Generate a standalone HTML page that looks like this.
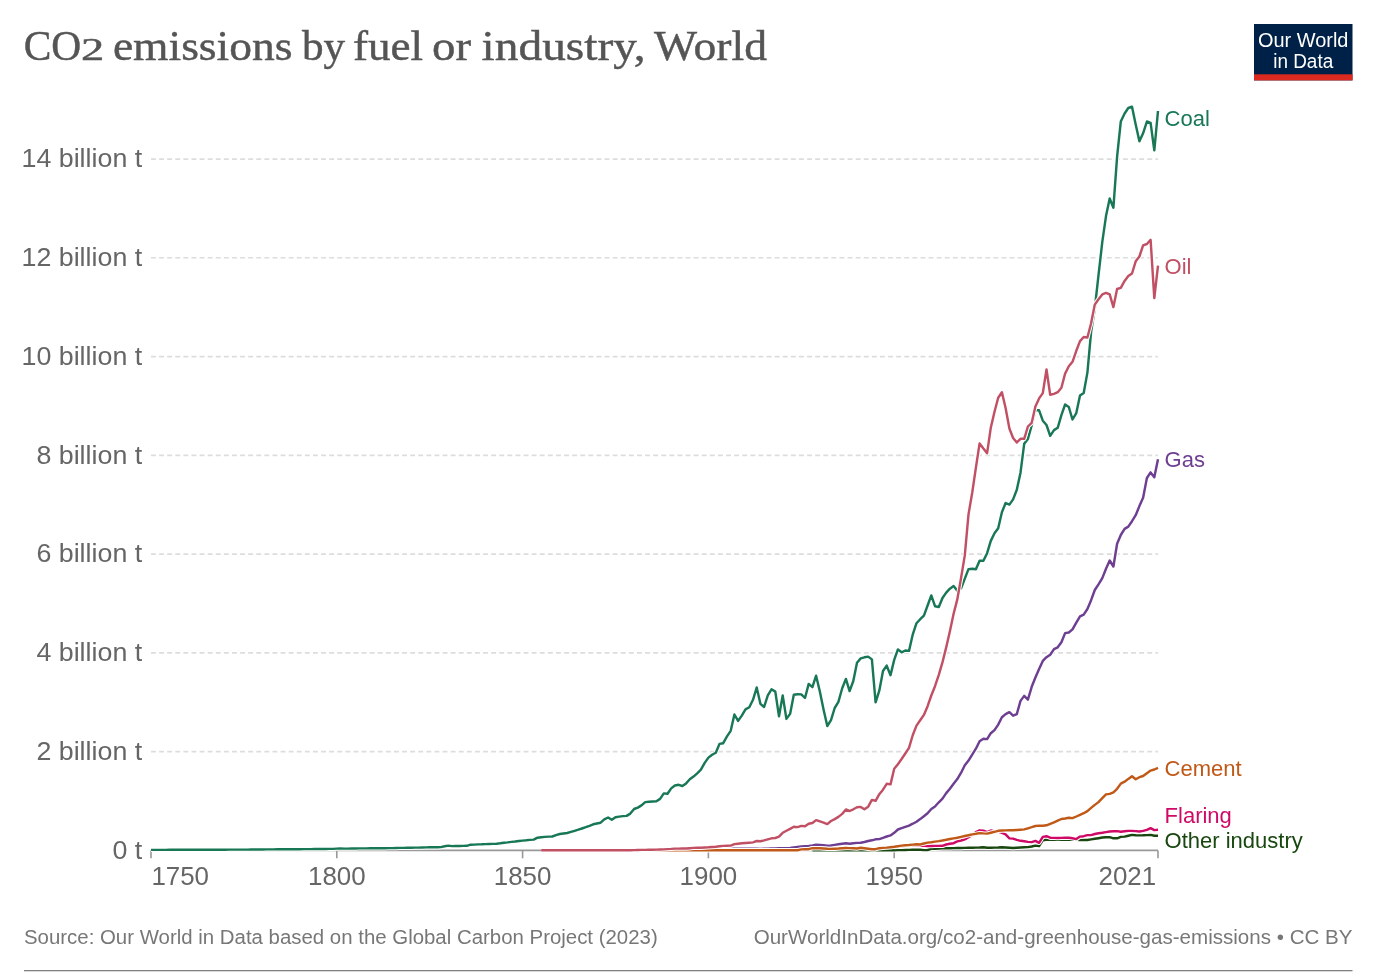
<!DOCTYPE html>
<html><head><meta charset="utf-8"><title>CO2 emissions by fuel or industry, World</title>
<style>
html,body{margin:0;padding:0;background:#fff;}
body{width:1377px;height:972px;overflow:hidden;font-family:"Liberation Sans",sans-serif;}
svg{display:block;will-change:transform;}
.ax{font-family:"Liberation Sans",sans-serif;font-size:25.92px;fill:#666;}
.lb{font-family:"Liberation Sans",sans-serif;font-size:22px;}
.ft{font-family:"Liberation Sans",sans-serif;fill:#777;}
.ti{font-family:"Liberation Serif",serif;fill:#555;stroke:#555;stroke-width:0.45px;}
.lg{font-family:"Liberation Sans",sans-serif;fill:#fff;}
</style></head>
<body>
<svg width="1377" height="972" viewBox="0 0 1377 972">
<rect x="0" y="0" width="1377" height="972" fill="#fff"/>
<text transform="translate(23.67,0) scale(0.9643,1)" x="0" y="59.9" font-size="43px" class="ti">CO</text>
<text transform="translate(81.00,0) scale(1.5000,1)" x="0" y="59.9" font-size="31px" class="ti">2</text>
<text transform="translate(112.88,0) scale(1.0590,1)" x="0" y="59.9" font-size="43px" class="ti">emissions</text>
<text transform="translate(302.00,0) scale(1.0047,1)" x="0" y="59.9" font-size="43px" class="ti">by</text>
<text transform="translate(353.00,0) scale(1.0484,1)" x="0" y="59.9" font-size="43px" class="ti">fuel</text>
<text transform="translate(432.12,0) scale(1.0882,1)" x="0" y="59.9" font-size="43px" class="ti">or</text>
<text transform="translate(481.60,0) scale(1.1021,1)" x="0" y="59.9" font-size="43px" class="ti">industry,</text>
<text transform="translate(654.10,0) scale(1.0613,1)" x="0" y="59.9" font-size="43px" class="ti">World</text>
<g id="logo">
<rect x="1254" y="24" width="98.5" height="56.4" fill="#002147"/>
<rect x="1254" y="74.3" width="98.5" height="6.1" fill="#dc2a20"/>
<text x="1303.2" y="46.6" text-anchor="middle" class="lg" font-size="19.5px" textLength="90.5" lengthAdjust="spacingAndGlyphs">Our World</text>
<text x="1303.2" y="67.9" text-anchor="middle" class="lg" font-size="19.5px" textLength="60" lengthAdjust="spacingAndGlyphs">in Data</text>
</g>
<g id="grid">
<line x1="151" x2="1158" y1="751.6" y2="751.6" stroke="#ddd" stroke-width="1.6" stroke-dasharray="4.86,3.24"/>
<line x1="151" x2="1158" y1="652.9" y2="652.9" stroke="#ddd" stroke-width="1.6" stroke-dasharray="4.86,3.24"/>
<line x1="151" x2="1158" y1="554.1" y2="554.1" stroke="#ddd" stroke-width="1.6" stroke-dasharray="4.86,3.24"/>
<line x1="151" x2="1158" y1="455.4" y2="455.4" stroke="#ddd" stroke-width="1.6" stroke-dasharray="4.86,3.24"/>
<line x1="151" x2="1158" y1="356.6" y2="356.6" stroke="#ddd" stroke-width="1.6" stroke-dasharray="4.86,3.24"/>
<line x1="151" x2="1158" y1="257.8" y2="257.8" stroke="#ddd" stroke-width="1.6" stroke-dasharray="4.86,3.24"/>
<line x1="151" x2="1158" y1="159.1" y2="159.1" stroke="#ddd" stroke-width="1.6" stroke-dasharray="4.86,3.24"/>
</g>
<g id="yl">
<text transform="translate(142.2,858.6) scale(1.035,1)" x="0" y="0" text-anchor="end" class="ax">0 t</text>
<text transform="translate(142.2,759.8) scale(1.035,1)" x="0" y="0" text-anchor="end" class="ax">2 billion t</text>
<text transform="translate(142.2,661.1) scale(1.035,1)" x="0" y="0" text-anchor="end" class="ax">4 billion t</text>
<text transform="translate(142.2,562.3) scale(1.035,1)" x="0" y="0" text-anchor="end" class="ax">6 billion t</text>
<text transform="translate(142.2,463.6) scale(1.035,1)" x="0" y="0" text-anchor="end" class="ax">8 billion t</text>
<text transform="translate(142.2,364.8) scale(1.035,1)" x="0" y="0" text-anchor="end" class="ax">10 billion t</text>
<text transform="translate(142.2,266.0) scale(1.035,1)" x="0" y="0" text-anchor="end" class="ax">12 billion t</text>
<text transform="translate(142.2,167.3) scale(1.035,1)" x="0" y="0" text-anchor="end" class="ax">14 billion t</text>
</g>
<line x1="151" x2="1158" y1="850.4" y2="850.4" stroke="#999" stroke-width="1.6"/>
<g id="xt">
<line x1="151.0" x2="151.0" y1="850.4" y2="858.3" stroke="#999" stroke-width="1.6"/>
<text x="151.4" y="885.2" text-anchor="start" class="ax">1750</text>
<line x1="336.8" x2="336.8" y1="850.4" y2="858.3" stroke="#999" stroke-width="1.6"/>
<text x="336.8" y="885.2" text-anchor="middle" class="ax">1800</text>
<line x1="522.6" x2="522.6" y1="850.4" y2="858.3" stroke="#999" stroke-width="1.6"/>
<text x="522.6" y="885.2" text-anchor="middle" class="ax">1850</text>
<line x1="708.4" x2="708.4" y1="850.4" y2="858.3" stroke="#999" stroke-width="1.6"/>
<text x="708.4" y="885.2" text-anchor="middle" class="ax">1900</text>
<line x1="894.2" x2="894.2" y1="850.4" y2="858.3" stroke="#999" stroke-width="1.6"/>
<text x="894.2" y="885.2" text-anchor="middle" class="ax">1950</text>
<line x1="1158.0" x2="1158.0" y1="850.4" y2="858.3" stroke="#999" stroke-width="1.6"/>
<text x="1156.2" y="885.2" text-anchor="end" class="ax">2021</text>
</g>
<g id="lines">
<path d="M812.4,850.4 L816.1,850.4 L819.9,850.4 L823.6,850.4 L827.3,850.4 L831.0,850.4 L834.7,850.4 L838.4,850.4 L842.2,850.4 L845.9,850.4 L849.6,850.4 L853.3,850.4 L857.0,850.4 L860.7,850.4 L864.4,850.4 L868.2,850.4 L871.9,850.4 L875.6,850.4 L879.3,850.3 L883.0,850.3 L886.7,850.3 L890.5,850.2 L894.2,850.2 L897.9,850.1 L901.6,850.1 L905.3,850.0 L909.0,849.9 L912.8,849.8 L916.5,849.8 L920.2,849.7 L923.9,850.1 L927.6,850.0 L931.3,848.8 L935.0,848.7 L938.8,848.5 L942.5,848.4 L946.2,848.3 L949.9,848.2 L953.6,848.1 L957.3,848.0 L961.1,848.0 L964.8,847.9 L968.5,847.8 L972.2,847.7 L975.9,847.6 L979.6,847.5 L983.4,847.3 L987.1,847.8 L990.8,847.7 L994.5,847.6 L998.2,847.5 L1001.9,847.3 L1005.6,847.5 L1009.4,847.7 L1013.1,848.0 L1016.8,847.7 L1020.5,847.5 L1024.2,847.3 L1027.9,847.1 L1031.7,846.5 L1035.4,845.6 L1039.1,846.0 L1042.8,840.2 L1046.5,839.7 L1050.2,839.7 L1054.0,839.7 L1057.7,839.7 L1061.4,839.7 L1065.1,839.6 L1068.8,839.7 L1072.5,839.7 L1076.3,839.7 L1080.0,840.0 L1083.7,840.0 L1087.4,840.0 L1091.1,839.4 L1094.8,838.8 L1098.5,838.2 L1102.3,837.5 L1106.0,837.3 L1109.7,837.1 L1113.4,838.3 L1117.1,838.3 L1120.8,836.9 L1124.6,836.6 L1128.3,835.7 L1132.0,834.9 L1135.7,835.2 L1139.4,835.4 L1143.1,835.3 L1146.9,835.1 L1150.6,834.9 L1154.3,835.7 L1158.0,835.7" fill="none" stroke="#fff" stroke-width="4.4" stroke-linejoin="round" stroke-linecap="butt"/>
<path d="M812.4,850.4 L816.1,850.4 L819.9,850.4 L823.6,850.4 L827.3,850.4 L831.0,850.4 L834.7,850.4 L838.4,850.4 L842.2,850.4 L845.9,850.4 L849.6,850.4 L853.3,850.4 L857.0,850.4 L860.7,850.4 L864.4,850.4 L868.2,850.4 L871.9,850.4 L875.6,850.4 L879.3,850.3 L883.0,850.3 L886.7,850.3 L890.5,850.2 L894.2,850.2 L897.9,850.1 L901.6,850.1 L905.3,850.0 L909.0,849.9 L912.8,849.8 L916.5,849.8 L920.2,849.7 L923.9,850.1 L927.6,850.0 L931.3,848.8 L935.0,848.7 L938.8,848.5 L942.5,848.4 L946.2,848.3 L949.9,848.2 L953.6,848.1 L957.3,848.0 L961.1,848.0 L964.8,847.9 L968.5,847.8 L972.2,847.7 L975.9,847.6 L979.6,847.5 L983.4,847.3 L987.1,847.8 L990.8,847.7 L994.5,847.6 L998.2,847.5 L1001.9,847.3 L1005.6,847.5 L1009.4,847.7 L1013.1,848.0 L1016.8,847.7 L1020.5,847.5 L1024.2,847.3 L1027.9,847.1 L1031.7,846.5 L1035.4,845.6 L1039.1,846.0 L1042.8,840.2 L1046.5,839.7 L1050.2,839.7 L1054.0,839.7 L1057.7,839.7 L1061.4,839.7 L1065.1,839.6 L1068.8,839.7 L1072.5,839.7 L1076.3,839.7 L1080.0,840.0 L1083.7,840.0 L1087.4,840.0 L1091.1,839.4 L1094.8,838.8 L1098.5,838.2 L1102.3,837.5 L1106.0,837.3 L1109.7,837.1 L1113.4,838.3 L1117.1,838.3 L1120.8,836.9 L1124.6,836.6 L1128.3,835.7 L1132.0,834.9 L1135.7,835.2 L1139.4,835.4 L1143.1,835.3 L1146.9,835.1 L1150.6,834.9 L1154.3,835.7 L1158.0,835.7" fill="none" stroke="#18470f" stroke-width="2.43" stroke-linejoin="round" stroke-linecap="butt"/>
<path d="M894.2,847.1 L897.9,846.7 L901.6,846.3 L905.3,845.9 L909.0,845.7 L912.8,845.5 L916.5,845.5 L920.2,845.9 L923.9,845.9 L927.6,846.0 L931.3,846.0 L935.0,845.9 L938.8,845.9 L942.5,845.8 L946.2,844.5 L949.9,843.8 L953.6,843.2 L957.3,841.4 L961.1,840.5 L964.8,839.4 L968.5,837.1 L972.2,835.0 L975.9,832.2 L979.6,830.4 L983.4,830.7 L987.1,832.2 L990.8,830.5 L994.5,831.5 L998.2,831.7 L1001.9,832.9 L1005.6,834.4 L1009.4,838.4 L1013.1,838.6 L1016.8,839.8 L1020.5,840.8 L1024.2,841.2 L1027.9,841.9 L1031.7,842.1 L1035.4,840.9 L1039.1,842.8 L1042.8,836.9 L1046.5,836.2 L1050.2,837.7 L1054.0,837.9 L1057.7,838.0 L1061.4,837.9 L1065.1,837.7 L1068.8,837.7 L1072.5,838.3 L1076.3,839.1 L1080.0,836.6 L1083.7,836.2 L1087.4,835.1 L1091.1,835.1 L1094.8,834.0 L1098.5,833.2 L1102.3,832.8 L1106.0,832.1 L1109.7,831.5 L1113.4,831.3 L1117.1,831.1 L1120.8,831.7 L1124.6,831.3 L1128.3,830.9 L1132.0,830.9 L1135.7,831.1 L1139.4,831.5 L1143.1,830.9 L1146.9,829.8 L1150.6,828.1 L1154.3,830.1 L1158.0,829.8" fill="none" stroke="#fff" stroke-width="4.4" stroke-linejoin="round" stroke-linecap="butt"/>
<path d="M894.2,847.1 L897.9,846.7 L901.6,846.3 L905.3,845.9 L909.0,845.7 L912.8,845.5 L916.5,845.5 L920.2,845.9 L923.9,845.9 L927.6,846.0 L931.3,846.0 L935.0,845.9 L938.8,845.9 L942.5,845.8 L946.2,844.5 L949.9,843.8 L953.6,843.2 L957.3,841.4 L961.1,840.5 L964.8,839.4 L968.5,837.1 L972.2,835.0 L975.9,832.2 L979.6,830.4 L983.4,830.7 L987.1,832.2 L990.8,830.5 L994.5,831.5 L998.2,831.7 L1001.9,832.9 L1005.6,834.4 L1009.4,838.4 L1013.1,838.6 L1016.8,839.8 L1020.5,840.8 L1024.2,841.2 L1027.9,841.9 L1031.7,842.1 L1035.4,840.9 L1039.1,842.8 L1042.8,836.9 L1046.5,836.2 L1050.2,837.7 L1054.0,837.9 L1057.7,838.0 L1061.4,837.9 L1065.1,837.7 L1068.8,837.7 L1072.5,838.3 L1076.3,839.1 L1080.0,836.6 L1083.7,836.2 L1087.4,835.1 L1091.1,835.1 L1094.8,834.0 L1098.5,833.2 L1102.3,832.8 L1106.0,832.1 L1109.7,831.5 L1113.4,831.3 L1117.1,831.1 L1120.8,831.7 L1124.6,831.3 L1128.3,830.9 L1132.0,830.9 L1135.7,831.1 L1139.4,831.5 L1143.1,830.9 L1146.9,829.8 L1150.6,828.1 L1154.3,830.1 L1158.0,829.8" fill="none" stroke="#cf0a66" stroke-width="2.43" stroke-linejoin="round" stroke-linecap="butt"/>
<path d="M641.5,850.4 L645.2,850.3 L648.9,850.3 L652.6,850.3 L656.4,850.2 L660.1,850.2 L663.8,850.2 L667.5,850.2 L671.2,850.1 L674.9,850.1 L678.7,850.1 L682.4,850.1 L686.1,850.0 L689.8,850.0 L693.5,850.0 L697.2,850.0 L700.9,849.9 L704.7,849.9 L708.4,849.9 L712.1,849.7 L715.8,849.5 L719.5,849.3 L723.2,849.2 L727.0,849.0 L730.7,848.8 L734.4,848.6 L738.1,848.6 L741.8,848.7 L745.5,848.7 L749.3,848.8 L753.0,848.8 L756.7,848.8 L760.4,848.9 L764.1,848.8 L767.8,848.7 L771.5,848.5 L775.3,848.4 L779.0,848.3 L782.7,848.2 L786.4,848.1 L790.1,848.0 L793.8,847.4 L797.6,846.9 L801.3,846.5 L805.0,846.2 L808.7,845.9 L812.4,845.4 L816.1,844.8 L819.9,845.0 L823.6,845.3 L827.3,845.6 L831.0,845.5 L834.7,844.9 L838.4,844.3 L842.2,843.8 L845.9,843.3 L849.6,843.7 L853.3,843.3 L857.0,842.9 L860.7,842.7 L864.4,842.0 L868.2,841.0 L871.9,840.3 L875.6,839.3 L879.3,839.1 L883.0,837.8 L886.7,836.5 L890.5,835.4 L894.2,832.8 L897.9,829.5 L901.6,828.2 L905.3,826.9 L909.0,825.6 L912.8,823.7 L916.5,821.7 L920.2,819.1 L923.9,816.2 L927.6,813.2 L931.3,809.0 L935.0,806.5 L938.8,802.3 L942.5,798.6 L946.2,793.1 L949.9,788.8 L953.6,783.8 L957.3,779.1 L961.1,772.7 L964.8,765.3 L968.5,760.6 L972.2,754.6 L975.9,748.7 L979.6,741.2 L983.4,738.7 L987.1,739.1 L990.8,733.2 L994.5,730.1 L998.2,724.6 L1001.9,717.2 L1005.6,714.1 L1009.4,712.2 L1013.1,715.7 L1016.8,714.1 L1020.5,700.9 L1024.2,695.9 L1027.9,699.7 L1031.7,686.8 L1035.4,677.5 L1039.1,668.9 L1042.8,660.9 L1046.5,657.2 L1050.2,654.7 L1054.0,649.1 L1057.7,647.3 L1061.4,642.3 L1065.1,633.1 L1068.8,632.5 L1072.5,629.4 L1076.3,622.6 L1080.0,616.4 L1083.7,614.6 L1087.4,609.0 L1091.1,600.2 L1094.8,590.0 L1098.5,584.4 L1102.3,578.1 L1106.0,568.8 L1109.7,560.5 L1113.4,566.5 L1117.1,543.8 L1120.8,535.0 L1124.6,528.9 L1128.3,526.6 L1132.0,521.2 L1135.7,515.2 L1139.4,506.1 L1143.1,497.8 L1146.9,478.0 L1150.6,472.4 L1154.3,477.2 L1158.0,459.3" fill="none" stroke="#fff" stroke-width="4.4" stroke-linejoin="round" stroke-linecap="butt"/>
<path d="M641.5,850.4 L645.2,850.3 L648.9,850.3 L652.6,850.3 L656.4,850.2 L660.1,850.2 L663.8,850.2 L667.5,850.2 L671.2,850.1 L674.9,850.1 L678.7,850.1 L682.4,850.1 L686.1,850.0 L689.8,850.0 L693.5,850.0 L697.2,850.0 L700.9,849.9 L704.7,849.9 L708.4,849.9 L712.1,849.7 L715.8,849.5 L719.5,849.3 L723.2,849.2 L727.0,849.0 L730.7,848.8 L734.4,848.6 L738.1,848.6 L741.8,848.7 L745.5,848.7 L749.3,848.8 L753.0,848.8 L756.7,848.8 L760.4,848.9 L764.1,848.8 L767.8,848.7 L771.5,848.5 L775.3,848.4 L779.0,848.3 L782.7,848.2 L786.4,848.1 L790.1,848.0 L793.8,847.4 L797.6,846.9 L801.3,846.5 L805.0,846.2 L808.7,845.9 L812.4,845.4 L816.1,844.8 L819.9,845.0 L823.6,845.3 L827.3,845.6 L831.0,845.5 L834.7,844.9 L838.4,844.3 L842.2,843.8 L845.9,843.3 L849.6,843.7 L853.3,843.3 L857.0,842.9 L860.7,842.7 L864.4,842.0 L868.2,841.0 L871.9,840.3 L875.6,839.3 L879.3,839.1 L883.0,837.8 L886.7,836.5 L890.5,835.4 L894.2,832.8 L897.9,829.5 L901.6,828.2 L905.3,826.9 L909.0,825.6 L912.8,823.7 L916.5,821.7 L920.2,819.1 L923.9,816.2 L927.6,813.2 L931.3,809.0 L935.0,806.5 L938.8,802.3 L942.5,798.6 L946.2,793.1 L949.9,788.8 L953.6,783.8 L957.3,779.1 L961.1,772.7 L964.8,765.3 L968.5,760.6 L972.2,754.6 L975.9,748.7 L979.6,741.2 L983.4,738.7 L987.1,739.1 L990.8,733.2 L994.5,730.1 L998.2,724.6 L1001.9,717.2 L1005.6,714.1 L1009.4,712.2 L1013.1,715.7 L1016.8,714.1 L1020.5,700.9 L1024.2,695.9 L1027.9,699.7 L1031.7,686.8 L1035.4,677.5 L1039.1,668.9 L1042.8,660.9 L1046.5,657.2 L1050.2,654.7 L1054.0,649.1 L1057.7,647.3 L1061.4,642.3 L1065.1,633.1 L1068.8,632.5 L1072.5,629.4 L1076.3,622.6 L1080.0,616.4 L1083.7,614.6 L1087.4,609.0 L1091.1,600.2 L1094.8,590.0 L1098.5,584.4 L1102.3,578.1 L1106.0,568.8 L1109.7,560.5 L1113.4,566.5 L1117.1,543.8 L1120.8,535.0 L1124.6,528.9 L1128.3,526.6 L1132.0,521.2 L1135.7,515.2 L1139.4,506.1 L1143.1,497.8 L1146.9,478.0 L1150.6,472.4 L1154.3,477.2 L1158.0,459.3" fill="none" stroke="#6d3e91" stroke-width="2.43" stroke-linejoin="round" stroke-linecap="butt"/>
<path d="M634.1,850.4 L637.8,850.3 L641.5,850.3 L645.2,850.3 L648.9,850.3 L652.6,850.3 L656.4,850.3 L660.1,850.3 L663.8,850.3 L667.5,850.3 L671.2,850.3 L674.9,850.3 L678.7,850.3 L682.4,850.3 L686.1,850.3 L689.8,850.3 L693.5,850.3 L697.2,850.3 L700.9,850.3 L704.7,850.3 L708.4,850.3 L712.1,850.3 L715.8,850.3 L719.5,850.3 L723.2,850.3 L727.0,850.3 L730.7,850.3 L734.4,850.2 L738.1,850.2 L741.8,850.2 L745.5,850.2 L749.3,850.2 L753.0,850.2 L756.7,850.2 L760.4,850.2 L764.1,850.2 L767.8,850.2 L771.5,850.2 L775.3,850.2 L779.0,850.2 L782.7,850.2 L786.4,850.2 L790.1,850.2 L793.8,850.2 L797.6,850.2 L801.3,849.4 L805.0,849.3 L808.7,849.2 L812.4,848.2 L816.1,848.1 L819.9,848.2 L823.6,848.5 L827.3,848.8 L831.0,848.9 L834.7,848.7 L838.4,848.5 L842.2,848.2 L845.9,848.0 L849.6,848.1 L853.3,848.3 L857.0,848.5 L860.7,847.8 L864.4,848.2 L868.2,848.7 L871.9,849.2 L875.6,849.2 L879.3,848.2 L883.0,847.9 L886.7,847.6 L890.5,847.2 L894.2,846.8 L897.9,846.2 L901.6,845.6 L905.3,845.3 L909.0,845.0 L912.8,844.6 L916.5,844.2 L920.2,844.5 L923.9,843.5 L927.6,842.6 L931.3,842.2 L935.0,841.6 L938.8,841.1 L942.5,840.5 L946.2,839.8 L949.9,839.0 L953.6,838.4 L957.3,837.8 L961.1,836.9 L964.8,836.0 L968.5,835.2 L972.2,834.4 L975.9,833.8 L979.6,833.1 L983.4,833.4 L987.1,833.6 L990.8,832.7 L994.5,831.8 L998.2,830.8 L1001.9,830.5 L1005.6,830.4 L1009.4,830.3 L1013.1,830.3 L1016.8,830.0 L1020.5,829.7 L1024.2,829.4 L1027.9,828.3 L1031.7,827.2 L1035.4,826.0 L1039.1,825.6 L1042.8,825.8 L1046.5,825.3 L1050.2,823.8 L1054.0,822.4 L1057.7,820.7 L1061.4,819.0 L1065.1,818.5 L1068.8,817.7 L1072.5,818.1 L1076.3,816.5 L1080.0,814.8 L1083.7,813.2 L1087.4,811.1 L1091.1,807.9 L1094.8,804.9 L1098.5,802.1 L1102.3,798.1 L1106.0,794.4 L1109.7,793.9 L1113.4,792.4 L1117.1,788.8 L1120.8,783.6 L1124.6,781.7 L1128.3,778.9 L1132.0,776.3 L1135.7,779.2 L1139.4,777.2 L1143.1,776.0 L1146.9,773.2 L1150.6,770.6 L1154.3,769.5 L1158.0,767.9" fill="none" stroke="#fff" stroke-width="4.4" stroke-linejoin="round" stroke-linecap="butt"/>
<path d="M634.1,850.4 L637.8,850.3 L641.5,850.3 L645.2,850.3 L648.9,850.3 L652.6,850.3 L656.4,850.3 L660.1,850.3 L663.8,850.3 L667.5,850.3 L671.2,850.3 L674.9,850.3 L678.7,850.3 L682.4,850.3 L686.1,850.3 L689.8,850.3 L693.5,850.3 L697.2,850.3 L700.9,850.3 L704.7,850.3 L708.4,850.3 L712.1,850.3 L715.8,850.3 L719.5,850.3 L723.2,850.3 L727.0,850.3 L730.7,850.3 L734.4,850.2 L738.1,850.2 L741.8,850.2 L745.5,850.2 L749.3,850.2 L753.0,850.2 L756.7,850.2 L760.4,850.2 L764.1,850.2 L767.8,850.2 L771.5,850.2 L775.3,850.2 L779.0,850.2 L782.7,850.2 L786.4,850.2 L790.1,850.2 L793.8,850.2 L797.6,850.2 L801.3,849.4 L805.0,849.3 L808.7,849.2 L812.4,848.2 L816.1,848.1 L819.9,848.2 L823.6,848.5 L827.3,848.8 L831.0,848.9 L834.7,848.7 L838.4,848.5 L842.2,848.2 L845.9,848.0 L849.6,848.1 L853.3,848.3 L857.0,848.5 L860.7,847.8 L864.4,848.2 L868.2,848.7 L871.9,849.2 L875.6,849.2 L879.3,848.2 L883.0,847.9 L886.7,847.6 L890.5,847.2 L894.2,846.8 L897.9,846.2 L901.6,845.6 L905.3,845.3 L909.0,845.0 L912.8,844.6 L916.5,844.2 L920.2,844.5 L923.9,843.5 L927.6,842.6 L931.3,842.2 L935.0,841.6 L938.8,841.1 L942.5,840.5 L946.2,839.8 L949.9,839.0 L953.6,838.4 L957.3,837.8 L961.1,836.9 L964.8,836.0 L968.5,835.2 L972.2,834.4 L975.9,833.8 L979.6,833.1 L983.4,833.4 L987.1,833.6 L990.8,832.7 L994.5,831.8 L998.2,830.8 L1001.9,830.5 L1005.6,830.4 L1009.4,830.3 L1013.1,830.3 L1016.8,830.0 L1020.5,829.7 L1024.2,829.4 L1027.9,828.3 L1031.7,827.2 L1035.4,826.0 L1039.1,825.6 L1042.8,825.8 L1046.5,825.3 L1050.2,823.8 L1054.0,822.4 L1057.7,820.7 L1061.4,819.0 L1065.1,818.5 L1068.8,817.7 L1072.5,818.1 L1076.3,816.5 L1080.0,814.8 L1083.7,813.2 L1087.4,811.1 L1091.1,807.9 L1094.8,804.9 L1098.5,802.1 L1102.3,798.1 L1106.0,794.4 L1109.7,793.9 L1113.4,792.4 L1117.1,788.8 L1120.8,783.6 L1124.6,781.7 L1128.3,778.9 L1132.0,776.3 L1135.7,779.2 L1139.4,777.2 L1143.1,776.0 L1146.9,773.2 L1150.6,770.6 L1154.3,769.5 L1158.0,767.9" fill="none" stroke="#c05917" stroke-width="2.43" stroke-linejoin="round" stroke-linecap="butt"/>
<path d="M151.0,849.9 L154.7,849.9 L158.4,849.9 L162.1,849.9 L165.9,849.9 L169.6,849.8 L173.3,849.8 L177.0,849.8 L180.7,849.8 L184.4,849.8 L188.2,849.8 L191.9,849.8 L195.6,849.8 L199.3,849.7 L203.0,849.7 L206.7,849.7 L210.5,849.7 L214.2,849.7 L217.9,849.7 L221.6,849.7 L225.3,849.7 L229.0,849.6 L232.7,849.6 L236.5,849.6 L240.2,849.6 L243.9,849.6 L247.6,849.6 L251.3,849.5 L255.0,849.5 L258.8,849.5 L262.5,849.5 L266.2,849.4 L269.9,849.4 L273.6,849.4 L277.3,849.3 L281.1,849.3 L284.8,849.3 L288.5,849.2 L292.2,849.2 L295.9,849.2 L299.6,849.2 L303.4,849.1 L307.1,849.1 L310.8,849.1 L314.5,849.0 L318.2,849.0 L321.9,849.0 L325.6,849.0 L329.4,848.9 L333.1,848.9 L336.8,848.6 L340.5,848.4 L344.2,848.6 L347.9,848.6 L351.7,848.5 L355.4,848.5 L359.1,848.4 L362.8,848.4 L366.5,848.4 L370.2,848.3 L374.0,848.3 L377.7,848.3 L381.4,848.2 L385.1,848.2 L388.8,848.1 L392.5,848.1 L396.2,848.0 L400.0,847.9 L403.7,847.9 L407.4,847.8 L411.1,847.7 L414.8,847.6 L418.5,847.6 L422.3,847.5 L426.0,847.4 L429.7,847.3 L433.4,847.2 L437.1,847.2 L440.8,847.1 L444.6,846.3 L448.3,845.6 L452.0,846.1 L455.7,846.0 L459.4,846.0 L463.1,845.9 L466.8,845.8 L470.6,844.7 L474.3,844.6 L478.0,844.4 L481.7,844.3 L485.4,844.1 L489.1,844.0 L492.9,843.9 L496.6,843.7 L500.3,843.3 L504.0,842.8 L507.7,842.4 L511.4,841.9 L515.2,841.5 L518.9,841.0 L522.6,840.6 L526.3,840.3 L530.0,839.9 L533.7,839.6 L537.5,837.7 L541.2,837.3 L544.9,836.9 L548.6,836.6 L552.3,836.5 L556.0,835.2 L559.7,834.0 L563.5,833.5 L567.2,833.0 L570.9,831.9 L574.6,830.8 L578.3,829.7 L582.0,828.5 L585.8,827.2 L589.5,825.8 L593.2,824.3 L596.9,823.5 L600.6,822.7 L604.3,819.4 L608.1,817.5 L611.8,819.8 L615.5,817.2 L619.2,816.6 L622.9,816.1 L626.6,815.9 L630.3,813.6 L634.1,809.0 L637.8,807.6 L641.5,805.4 L645.2,802.1 L648.9,801.8 L652.6,801.5 L656.4,801.2 L660.1,798.9 L663.8,793.4 L667.5,793.7 L671.2,788.4 L674.9,785.5 L678.7,784.8 L682.4,786.0 L686.1,783.4 L689.8,779.3 L693.5,776.6 L697.2,773.3 L700.9,769.7 L704.7,762.9 L708.4,757.6 L712.1,754.8 L715.8,752.8 L719.5,743.9 L723.2,743.2 L727.0,736.4 L730.7,730.8 L734.4,714.5 L738.1,720.9 L741.8,715.6 L745.5,709.4 L749.3,707.3 L753.0,699.8 L756.7,687.5 L760.4,703.8 L764.1,707.0 L767.8,695.4 L771.5,689.3 L775.3,691.6 L779.0,716.3 L782.7,695.4 L786.4,718.9 L790.1,713.9 L793.8,694.7 L797.6,694.3 L801.3,694.4 L805.0,698.0 L808.7,683.9 L812.4,687.1 L816.1,675.7 L819.9,691.8 L823.6,709.8 L827.3,726.0 L831.0,720.2 L834.7,708.0 L838.4,701.9 L842.2,688.2 L845.9,678.9 L849.6,691.1 L853.3,681.0 L857.0,662.8 L860.7,658.4 L864.4,657.3 L868.2,656.6 L871.9,659.4 L875.6,702.4 L879.3,690.7 L883.0,671.0 L886.7,665.6 L890.5,675.2 L894.2,659.9 L897.9,649.4 L901.6,652.3 L905.3,650.5 L909.0,650.9 L912.8,634.3 L916.5,623.2 L920.2,619.2 L923.9,615.6 L927.6,605.5 L931.3,595.4 L935.0,606.2 L938.8,607.0 L942.5,598.0 L946.2,592.6 L949.9,588.7 L953.6,586.1 L957.3,590.7 L961.1,588.2 L964.8,578.6 L968.5,569.1 L972.2,568.7 L975.9,569.3 L979.6,560.7 L983.4,560.7 L987.1,553.2 L990.8,540.9 L994.5,533.3 L998.2,528.2 L1001.9,512.3 L1005.6,503.0 L1009.4,504.6 L1013.1,499.4 L1016.8,489.8 L1020.5,472.7 L1024.2,443.8 L1027.9,438.9 L1031.7,425.4 L1035.4,410.3 L1039.1,410.3 L1042.8,420.7 L1046.5,425.0 L1050.2,435.8 L1054.0,430.1 L1057.7,427.8 L1061.4,415.1 L1065.1,404.5 L1068.8,407.0 L1072.5,419.5 L1076.3,413.1 L1080.0,395.5 L1083.7,393.0 L1087.4,372.6 L1091.1,331.9 L1094.8,308.5 L1098.5,275.2 L1102.3,241.9 L1106.0,216.1 L1109.7,198.5 L1113.4,207.7 L1117.1,156.7 L1120.8,121.5 L1124.6,113.5 L1128.3,108.0 L1132.0,106.7 L1135.7,124.6 L1139.4,141.3 L1143.1,133.3 L1146.9,121.5 L1150.6,122.8 L1154.3,150.3 L1158.0,111.0" fill="none" stroke="#fff" stroke-width="4.4" stroke-linejoin="round" stroke-linecap="butt"/>
<path d="M151.0,849.9 L154.7,849.9 L158.4,849.9 L162.1,849.9 L165.9,849.9 L169.6,849.8 L173.3,849.8 L177.0,849.8 L180.7,849.8 L184.4,849.8 L188.2,849.8 L191.9,849.8 L195.6,849.8 L199.3,849.7 L203.0,849.7 L206.7,849.7 L210.5,849.7 L214.2,849.7 L217.9,849.7 L221.6,849.7 L225.3,849.7 L229.0,849.6 L232.7,849.6 L236.5,849.6 L240.2,849.6 L243.9,849.6 L247.6,849.6 L251.3,849.5 L255.0,849.5 L258.8,849.5 L262.5,849.5 L266.2,849.4 L269.9,849.4 L273.6,849.4 L277.3,849.3 L281.1,849.3 L284.8,849.3 L288.5,849.2 L292.2,849.2 L295.9,849.2 L299.6,849.2 L303.4,849.1 L307.1,849.1 L310.8,849.1 L314.5,849.0 L318.2,849.0 L321.9,849.0 L325.6,849.0 L329.4,848.9 L333.1,848.9 L336.8,848.6 L340.5,848.4 L344.2,848.6 L347.9,848.6 L351.7,848.5 L355.4,848.5 L359.1,848.4 L362.8,848.4 L366.5,848.4 L370.2,848.3 L374.0,848.3 L377.7,848.3 L381.4,848.2 L385.1,848.2 L388.8,848.1 L392.5,848.1 L396.2,848.0 L400.0,847.9 L403.7,847.9 L407.4,847.8 L411.1,847.7 L414.8,847.6 L418.5,847.6 L422.3,847.5 L426.0,847.4 L429.7,847.3 L433.4,847.2 L437.1,847.2 L440.8,847.1 L444.6,846.3 L448.3,845.6 L452.0,846.1 L455.7,846.0 L459.4,846.0 L463.1,845.9 L466.8,845.8 L470.6,844.7 L474.3,844.6 L478.0,844.4 L481.7,844.3 L485.4,844.1 L489.1,844.0 L492.9,843.9 L496.6,843.7 L500.3,843.3 L504.0,842.8 L507.7,842.4 L511.4,841.9 L515.2,841.5 L518.9,841.0 L522.6,840.6 L526.3,840.3 L530.0,839.9 L533.7,839.6 L537.5,837.7 L541.2,837.3 L544.9,836.9 L548.6,836.6 L552.3,836.5 L556.0,835.2 L559.7,834.0 L563.5,833.5 L567.2,833.0 L570.9,831.9 L574.6,830.8 L578.3,829.7 L582.0,828.5 L585.8,827.2 L589.5,825.8 L593.2,824.3 L596.9,823.5 L600.6,822.7 L604.3,819.4 L608.1,817.5 L611.8,819.8 L615.5,817.2 L619.2,816.6 L622.9,816.1 L626.6,815.9 L630.3,813.6 L634.1,809.0 L637.8,807.6 L641.5,805.4 L645.2,802.1 L648.9,801.8 L652.6,801.5 L656.4,801.2 L660.1,798.9 L663.8,793.4 L667.5,793.7 L671.2,788.4 L674.9,785.5 L678.7,784.8 L682.4,786.0 L686.1,783.4 L689.8,779.3 L693.5,776.6 L697.2,773.3 L700.9,769.7 L704.7,762.9 L708.4,757.6 L712.1,754.8 L715.8,752.8 L719.5,743.9 L723.2,743.2 L727.0,736.4 L730.7,730.8 L734.4,714.5 L738.1,720.9 L741.8,715.6 L745.5,709.4 L749.3,707.3 L753.0,699.8 L756.7,687.5 L760.4,703.8 L764.1,707.0 L767.8,695.4 L771.5,689.3 L775.3,691.6 L779.0,716.3 L782.7,695.4 L786.4,718.9 L790.1,713.9 L793.8,694.7 L797.6,694.3 L801.3,694.4 L805.0,698.0 L808.7,683.9 L812.4,687.1 L816.1,675.7 L819.9,691.8 L823.6,709.8 L827.3,726.0 L831.0,720.2 L834.7,708.0 L838.4,701.9 L842.2,688.2 L845.9,678.9 L849.6,691.1 L853.3,681.0 L857.0,662.8 L860.7,658.4 L864.4,657.3 L868.2,656.6 L871.9,659.4 L875.6,702.4 L879.3,690.7 L883.0,671.0 L886.7,665.6 L890.5,675.2 L894.2,659.9 L897.9,649.4 L901.6,652.3 L905.3,650.5 L909.0,650.9 L912.8,634.3 L916.5,623.2 L920.2,619.2 L923.9,615.6 L927.6,605.5 L931.3,595.4 L935.0,606.2 L938.8,607.0 L942.5,598.0 L946.2,592.6 L949.9,588.7 L953.6,586.1 L957.3,590.7 L961.1,588.2 L964.8,578.6 L968.5,569.1 L972.2,568.7 L975.9,569.3 L979.6,560.7 L983.4,560.7 L987.1,553.2 L990.8,540.9 L994.5,533.3 L998.2,528.2 L1001.9,512.3 L1005.6,503.0 L1009.4,504.6 L1013.1,499.4 L1016.8,489.8 L1020.5,472.7 L1024.2,443.8 L1027.9,438.9 L1031.7,425.4 L1035.4,410.3 L1039.1,410.3 L1042.8,420.7 L1046.5,425.0 L1050.2,435.8 L1054.0,430.1 L1057.7,427.8 L1061.4,415.1 L1065.1,404.5 L1068.8,407.0 L1072.5,419.5 L1076.3,413.1 L1080.0,395.5 L1083.7,393.0 L1087.4,372.6 L1091.1,331.9 L1094.8,308.5 L1098.5,275.2 L1102.3,241.9 L1106.0,216.1 L1109.7,198.5 L1113.4,207.7 L1117.1,156.7 L1120.8,121.5 L1124.6,113.5 L1128.3,108.0 L1132.0,106.7 L1135.7,124.6 L1139.4,141.3 L1143.1,133.3 L1146.9,121.5 L1150.6,122.8 L1154.3,150.3 L1158.0,111.0" fill="none" stroke="#187855" stroke-width="2.43" stroke-linejoin="round" stroke-linecap="butt"/>
<path d="M541.2,850.3 L544.9,850.3 L548.6,850.3 L552.3,850.3 L556.0,850.3 L559.7,850.3 L563.5,850.3 L567.2,850.3 L570.9,850.3 L574.6,850.3 L578.3,850.3 L582.0,850.3 L585.8,850.3 L589.5,850.3 L593.2,850.3 L596.9,850.3 L600.6,850.3 L604.3,850.3 L608.1,850.3 L611.8,850.3 L615.5,850.3 L619.2,850.3 L622.9,850.2 L626.6,850.2 L630.3,850.2 L634.1,850.1 L637.8,850.0 L641.5,849.9 L645.2,849.9 L648.9,849.8 L652.6,849.7 L656.4,849.6 L660.1,849.5 L663.8,849.4 L667.5,849.1 L671.2,848.9 L674.9,848.6 L678.7,848.6 L682.4,848.5 L686.1,848.5 L689.8,848.2 L693.5,847.9 L697.2,847.8 L700.9,847.7 L704.7,847.5 L708.4,847.3 L712.1,847.0 L715.8,846.7 L719.5,846.3 L723.2,845.9 L727.0,845.7 L730.7,845.6 L734.4,844.1 L738.1,843.7 L741.8,843.3 L745.5,843.0 L749.3,842.7 L753.0,842.4 L756.7,841.0 L760.4,841.3 L764.1,840.4 L767.8,839.3 L771.5,838.3 L775.3,838.0 L779.0,836.7 L782.7,832.8 L786.4,830.8 L790.1,828.9 L793.8,826.7 L797.6,827.1 L801.3,825.9 L805.0,826.3 L808.7,823.7 L812.4,823.0 L816.1,820.1 L819.9,821.4 L823.6,822.6 L827.3,824.1 L831.0,821.0 L834.7,819.1 L838.4,816.9 L842.2,813.9 L845.9,809.5 L849.6,811.0 L853.3,809.3 L857.0,807.3 L860.7,806.9 L864.4,809.3 L868.2,806.7 L871.9,799.9 L875.6,800.8 L879.3,794.2 L883.0,789.7 L886.7,783.8 L890.5,784.4 L894.2,768.8 L897.9,764.2 L901.6,759.0 L905.3,753.5 L909.0,747.9 L912.8,735.0 L916.5,725.6 L920.2,720.3 L923.9,714.9 L927.6,706.2 L931.3,695.5 L935.0,686.2 L938.8,674.8 L942.5,662.1 L946.2,647.4 L949.9,631.2 L953.6,613.8 L957.3,599.4 L961.1,577.8 L964.8,555.4 L968.5,514.4 L972.2,492.8 L975.9,467.6 L979.6,443.4 L983.4,448.5 L987.1,453.2 L990.8,427.7 L994.5,411.7 L998.2,397.7 L1001.9,392.2 L1005.6,408.0 L1009.4,428.5 L1013.1,438.0 L1016.8,442.5 L1020.5,438.8 L1024.2,438.8 L1027.9,426.5 L1031.7,422.8 L1035.4,406.6 L1039.1,398.4 L1042.8,393.1 L1046.5,369.5 L1050.2,394.7 L1054.0,393.9 L1057.7,392.2 L1061.4,387.8 L1065.1,373.6 L1068.8,366.3 L1072.5,361.8 L1076.3,350.8 L1080.0,341.1 L1083.7,337.0 L1087.4,337.5 L1091.1,323.2 L1094.8,304.6 L1098.5,299.2 L1102.3,294.4 L1106.0,292.9 L1109.7,294.4 L1113.4,307.1 L1117.1,289.0 L1120.8,287.8 L1124.6,280.9 L1128.3,276.1 L1132.0,273.5 L1135.7,261.3 L1139.4,256.5 L1143.1,245.4 L1146.9,244.0 L1150.6,239.8 L1154.3,298.1 L1158.0,265.7" fill="none" stroke="#fff" stroke-width="4.4" stroke-linejoin="round" stroke-linecap="butt"/>
<path d="M541.2,850.3 L544.9,850.3 L548.6,850.3 L552.3,850.3 L556.0,850.3 L559.7,850.3 L563.5,850.3 L567.2,850.3 L570.9,850.3 L574.6,850.3 L578.3,850.3 L582.0,850.3 L585.8,850.3 L589.5,850.3 L593.2,850.3 L596.9,850.3 L600.6,850.3 L604.3,850.3 L608.1,850.3 L611.8,850.3 L615.5,850.3 L619.2,850.3 L622.9,850.2 L626.6,850.2 L630.3,850.2 L634.1,850.1 L637.8,850.0 L641.5,849.9 L645.2,849.9 L648.9,849.8 L652.6,849.7 L656.4,849.6 L660.1,849.5 L663.8,849.4 L667.5,849.1 L671.2,848.9 L674.9,848.6 L678.7,848.6 L682.4,848.5 L686.1,848.5 L689.8,848.2 L693.5,847.9 L697.2,847.8 L700.9,847.7 L704.7,847.5 L708.4,847.3 L712.1,847.0 L715.8,846.7 L719.5,846.3 L723.2,845.9 L727.0,845.7 L730.7,845.6 L734.4,844.1 L738.1,843.7 L741.8,843.3 L745.5,843.0 L749.3,842.7 L753.0,842.4 L756.7,841.0 L760.4,841.3 L764.1,840.4 L767.8,839.3 L771.5,838.3 L775.3,838.0 L779.0,836.7 L782.7,832.8 L786.4,830.8 L790.1,828.9 L793.8,826.7 L797.6,827.1 L801.3,825.9 L805.0,826.3 L808.7,823.7 L812.4,823.0 L816.1,820.1 L819.9,821.4 L823.6,822.6 L827.3,824.1 L831.0,821.0 L834.7,819.1 L838.4,816.9 L842.2,813.9 L845.9,809.5 L849.6,811.0 L853.3,809.3 L857.0,807.3 L860.7,806.9 L864.4,809.3 L868.2,806.7 L871.9,799.9 L875.6,800.8 L879.3,794.2 L883.0,789.7 L886.7,783.8 L890.5,784.4 L894.2,768.8 L897.9,764.2 L901.6,759.0 L905.3,753.5 L909.0,747.9 L912.8,735.0 L916.5,725.6 L920.2,720.3 L923.9,714.9 L927.6,706.2 L931.3,695.5 L935.0,686.2 L938.8,674.8 L942.5,662.1 L946.2,647.4 L949.9,631.2 L953.6,613.8 L957.3,599.4 L961.1,577.8 L964.8,555.4 L968.5,514.4 L972.2,492.8 L975.9,467.6 L979.6,443.4 L983.4,448.5 L987.1,453.2 L990.8,427.7 L994.5,411.7 L998.2,397.7 L1001.9,392.2 L1005.6,408.0 L1009.4,428.5 L1013.1,438.0 L1016.8,442.5 L1020.5,438.8 L1024.2,438.8 L1027.9,426.5 L1031.7,422.8 L1035.4,406.6 L1039.1,398.4 L1042.8,393.1 L1046.5,369.5 L1050.2,394.7 L1054.0,393.9 L1057.7,392.2 L1061.4,387.8 L1065.1,373.6 L1068.8,366.3 L1072.5,361.8 L1076.3,350.8 L1080.0,341.1 L1083.7,337.0 L1087.4,337.5 L1091.1,323.2 L1094.8,304.6 L1098.5,299.2 L1102.3,294.4 L1106.0,292.9 L1109.7,294.4 L1113.4,307.1 L1117.1,289.0 L1120.8,287.8 L1124.6,280.9 L1128.3,276.1 L1132.0,273.5 L1135.7,261.3 L1139.4,256.5 L1143.1,245.4 L1146.9,244.0 L1150.6,239.8 L1154.3,298.1 L1158.0,265.7" fill="none" stroke="#c15065" stroke-width="2.43" stroke-linejoin="round" stroke-linecap="butt"/>
</g>
<g id="labels">
<text x="1164.6" y="125.9" class="lb" fill="#187855">Coal</text>
<text x="1164.6" y="273.6" class="lb" fill="#c15065">Oil</text>
<text x="1164.6" y="467.2" class="lb" fill="#6d3e91">Gas</text>
<text x="1164.6" y="775.8" class="lb" fill="#c05917">Cement</text>
<text x="1164.6" y="822.5" class="lb" fill="#cf0a66">Flaring</text>
<text x="1164.6" y="847.7" class="lb" fill="#18470f">Other industry</text>
</g>
<text x="24" y="943.8" class="ft" font-size="20.42px">Source: Our World in Data based on the Global Carbon Project (2023)</text>
<text x="1352.5" y="943.8" text-anchor="end" class="ft" font-size="20.57px">OurWorldInData.org/co2-and-greenhouse-gas-emissions • CC BY</text>
<rect x="24" y="970" width="1328.5" height="1.3" fill="#808080"/>
</svg>
</body></html>
